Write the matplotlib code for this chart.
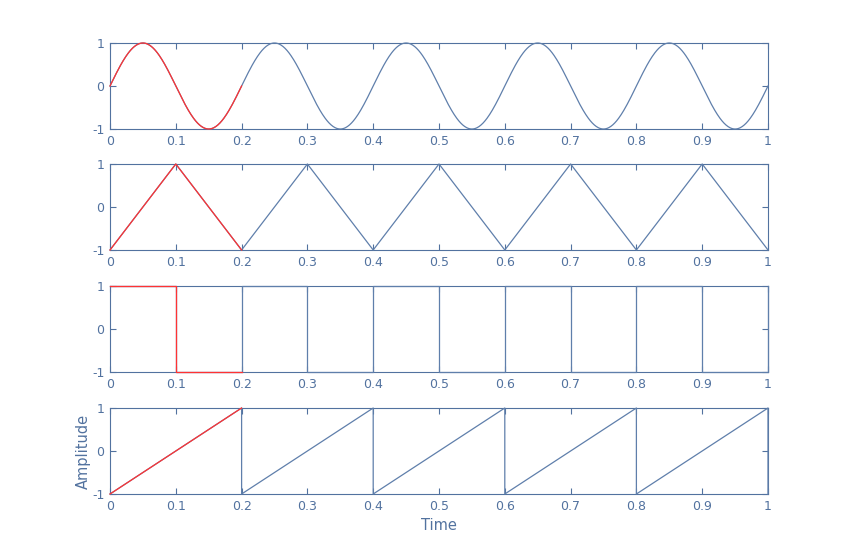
import numpy as np
import matplotlib
matplotlib.use("Agg")
import matplotlib.pyplot as plt

# Data
frequency = 5.0          # Hz, period 0.2 s
t_end = 1.0
highlight_end = 0.2      # first period in red

tri_t = [0, 0.1, 0.2, 0.3, 0.4, 0.5, 0.6, 0.7, 0.8, 0.9, 1.0]
tri_y = [-1, 1, -1, 1, -1, 1, -1, 1, -1, 1, -1]

sq_t = [0, 0.1, 0.1, 0.2, 0.2, 0.3, 0.3, 0.4, 0.4, 0.5, 0.5, 0.6, 0.6, 0.7, 0.7, 0.8, 0.8, 0.9, 0.9, 1.0, 1.0]
sq_y = [1, 1, -1, -1, 1, 1, -1, -1, 1, 1, -1, -1, 1, 1, -1, -1, 1, 1, -1, -1, 1]

saw_t = [0, 0.2, 0.2, 0.4, 0.4, 0.6, 0.6, 0.8, 0.8, 1.0, 1.0]
saw_y = [-1, 1, -1, 1, -1, 1, -1, 1, -1, 1, -1]

xticks = [0, 0.1, 0.2, 0.3, 0.4, 0.5, 0.6, 0.7, 0.8, 0.9, 1.0]
xticklabels = ["0", "0.1", "0.2", "0.3", "0.4", "0.5", "0.6", "0.7", "0.8", "0.9", "1"]
yticks = [-1, 0, 1]
yticklabels = ["-1", "0", "1"]

BLUE = "#52729f"
LINE = "#5f7fab"
RED = "#ff3333"

fig = plt.figure(figsize=(8.5, 5.57), dpi=100)
left = 110 / 850
width = (768 - 110) / 850
tops = [43, 164, 286, 408]
h = 86

t_sine = np.linspace(0, t_end, 1001)
y_sine = np.sin(2 * np.pi * frequency * t_sine)

series = [
    (t_sine, y_sine),
    (np.array(tri_t), np.array(tri_y)),
    (np.array(sq_t), np.array(sq_y)),
    (np.array(saw_t), np.array(saw_y)),
]

axes = []
for i, (tt, yy) in enumerate(series):
    ax = fig.add_axes([left, 1 - (tops[i] + h) / 557, width, h / 557])
    axes.append(ax)
    ax.plot(tt, yy, color=LINE, lw=0.9, zorder=3, clip_on=False)
    if i == 0:
        m = tt <= highlight_end + 1e-9
        ax.plot(tt[m], yy[m], color=RED, lw=0.9, zorder=4, clip_on=False)
    elif i == 1:
        ax.plot(tt[:3], yy[:3], color=RED, lw=0.9, zorder=4, clip_on=False)
    elif i == 2:
        ax.plot(tt[:4], yy[:4], color=RED, lw=0.9, zorder=4, clip_on=False)
    else:
        ax.plot(tt[:2], yy[:2], color=RED, lw=0.9, zorder=4, clip_on=False)
    ax.set_xlim(0, 1)
    ax.set_ylim(-1, 1)
    ax.set_xticks(xticks)
    ax.set_xticklabels(xticklabels)
    ax.set_yticks(yticks)
    ax.set_yticklabels(yticklabels)
    ax.tick_params(direction="in", top=True, right=True, colors=BLUE,
                   labelsize=9, length=4, width=0.8, pad=4)
    for s in ax.spines.values():
        s.set_color(BLUE)
        s.set_linewidth(0.8)

axes[3].set_xlabel("Time", color=BLUE, fontsize=10.5, labelpad=4)
axes[3].set_ylabel("Amplitude", color=BLUE, fontsize=10.5, labelpad=1)

fig.savefig("out.png", dpi=100)
